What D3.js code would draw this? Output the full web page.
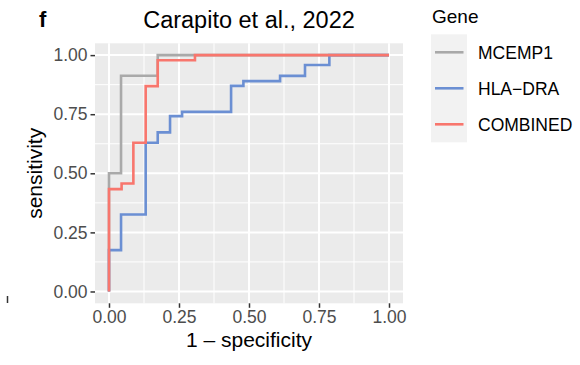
<!DOCTYPE html>
<html><head><meta charset="utf-8">
<script src="https://cdn.jsdelivr.net/npm/d3@7"></script>
<style>body{margin:0;background:#fff}svg{display:block}</style>
</head><body>
<script>
const genes = ["MCEMP1", "HLA\u2212DRA", "COMBINED"];
const colors = ["#a9a9a9", "#6b8fd3", "#f8766d"];
const mcemp1Fpr = [0, 0, 0.043, 0.043, 0.174, 0.174, 1];
const mcemp1Tpr = [0, 0.5, 0.5, 0.913, 0.913, 1, 1];
const hlaFpr = [0, 0, 0.043, 0.043, 0.131, 0.131, 0.174, 0.174, 0.218, 0.218, 0.261, 0.261, 0.436, 0.436, 0.48, 0.48, 0.611, 0.611, 0.7, 0.7, 0.787, 0.787, 1];
const hlaTpr = [0, 0.175, 0.175, 0.326, 0.326, 0.629, 0.629, 0.673, 0.673, 0.742, 0.742, 0.76, 0.76, 0.87, 0.87, 0.89, 0.89, 0.912, 0.912, 0.958, 0.958, 1, 1];
const combFpr = [0, 0, 0.045, 0.045, 0.087, 0.087, 0.131, 0.131, 0.174, 0.174, 0.307, 0.307, 1];
const combTpr = [0, 0.433, 0.433, 0.457, 0.457, 0.629, 0.629, 0.869, 0.869, 0.978, 0.978, 1, 1];
const xTicks = [0, 0.25, 0.5, 0.75, 1];
const yTicks = [0, 0.25, 0.5, 0.75, 1];
const tickLabels = ["0.00", "0.25", "0.50", "0.75", "1.00"];

const series = [
  {gene: genes[0], fpr: mcemp1Fpr, tpr: mcemp1Tpr, color: colors[0]},
  {gene: genes[1], fpr: hlaFpr, tpr: hlaTpr, color: colors[1]},
  {gene: genes[2], fpr: combFpr, tpr: combTpr, color: colors[2]}
];

const W = 580, H = 365;
const svg = d3.select("body").append("svg").attr("width", W).attr("height", H);
const font = "'Liberation Sans', Arial, Helvetica, sans-serif";

const pL = 95, pR = 403, pT = 43.3, pB = 303.3;
const x = d3.scaleLinear().domain([-0.05, 1.05]).range([pL, pR]);
const y = d3.scaleLinear().domain([-0.05, 1.05]).range([pB, pT]);

svg.append("rect").attr("x", pL).attr("y", pT).attr("width", pR - pL).attr("height", pB - pT).attr("fill", "#ebebeb");

const minor = [0.125, 0.375, 0.625, 0.875];
const g = svg.append("g");
minor.forEach(v => {
  g.append("line").attr("x1", x(v)).attr("x2", x(v)).attr("y1", pT).attr("y2", pB).attr("stroke", "#fff").attr("stroke-width", 1);
  g.append("line").attr("y1", y(v)).attr("y2", y(v)).attr("x1", pL).attr("x2", pR).attr("stroke", "#fff").attr("stroke-width", 1);
});
xTicks.forEach(v => {
  g.append("line").attr("x1", x(v)).attr("x2", x(v)).attr("y1", pT).attr("y2", pB).attr("stroke", "#fff").attr("stroke-width", 2);
});
yTicks.forEach(v => {
  g.append("line").attr("y1", y(v)).attr("y2", y(v)).attr("x1", pL).attr("x2", pR).attr("stroke", "#fff").attr("stroke-width", 2);
});

const line = d3.line().x(d => x(d[0])).y(d => y(d[1]));
series.forEach(s => {
  const pts = s.fpr.map((f, i) => [f, s.tpr[i]]);
  svg.append("path").attr("d", line(pts)).attr("fill", "none").attr("stroke", s.color).attr("stroke-width", 2.6).attr("stroke-linejoin", "miter");
});

// axes
const xAxis = d3.axisBottom(x).tickValues(xTicks).tickFormat((d, i) => tickLabels[i]).tickSize(4.5).tickPadding(3);
const gx = svg.append("g").attr("transform", `translate(0,${pB})`).call(xAxis);
const yAxis = d3.axisLeft(y).tickValues(yTicks).tickFormat((d, i) => tickLabels[i]).tickSize(4.5).tickPadding(3);
const gy = svg.append("g").attr("transform", `translate(${pL},0)`).call(yAxis);
[gx, gy].forEach(a => {
  a.select(".domain").remove();
  a.selectAll(".tick line").attr("stroke", "#333").attr("stroke-width", 1.5);
  a.selectAll(".tick text").attr("fill", "#4d4d4d").attr("font-family", font).attr("font-size", 17.5);
});

svg.append("text").attr("x", (pL + pR) / 2).attr("y", 347).attr("text-anchor", "middle")
  .attr("font-family", font).attr("font-size", 21).attr("fill", "#000").text("1 \u2013 specificity");
svg.append("text").attr("transform", `translate(42,${(pT + pB) / 2}) rotate(-90)`).attr("text-anchor", "middle")
  .attr("font-family", font).attr("font-size", 21).attr("fill", "#000").text("sensitivity");

svg.append("text").attr("x", (pL + pR) / 2).attr("y", 28).attr("text-anchor", "middle")
  .attr("font-family", font).attr("font-size", 23.5).attr("fill", "#000").text("Carapito et al., 2022");
svg.append("text").attr("x", 39).attr("y", 27).attr("font-family", font).attr("font-weight", "bold")
  .attr("font-size", 22).attr("fill", "#000").text("f");

// legend
const lg = svg.append("g");
lg.append("text").attr("x", 432).attr("y", 23).attr("font-family", font).attr("font-size", 19).attr("fill", "#000").text("Gene");
const keyX = 431, keyW = 36, keyT = 34.3, keyH = 36;
lg.append("rect").attr("x", keyX).attr("y", keyT).attr("width", keyW).attr("height", keyH * 3).attr("fill", "#f2f2f2");
series.forEach((s, i) => {
  const cy = keyT + keyH * i + keyH / 2;
  lg.append("line").attr("x1", keyX + 4).attr("x2", keyX + keyW - 3.5).attr("y1", cy).attr("y2", cy)
    .attr("stroke", s.color).attr("stroke-width", 2.6);
  lg.append("text").attr("x", 478).attr("y", cy).attr("dy", "0.36em").attr("font-family", font)
    .attr("font-size", 17.5).attr("fill", "#000").text(s.gene);
});

// stray mark at bottom-left
svg.append("line").attr("x1", 7.5).attr("x2", 7.5).attr("y1", 296).attr("y2", 303).attr("stroke", "#333").attr("stroke-width", 1.5);
</script>
</body></html>
